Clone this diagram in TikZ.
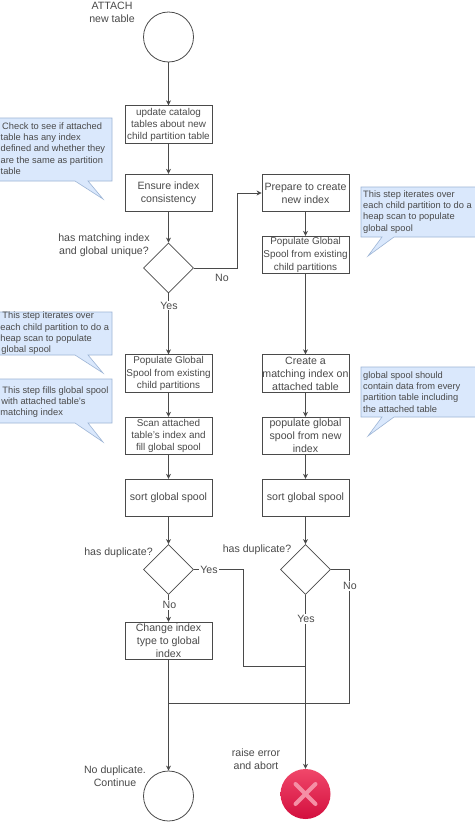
\documentclass[tikz,border=0pt]{standalone}
\usepackage{fontspec}
\setmainfont{Liberation Sans}
\usetikzlibrary{arrows.meta,calc,shapes.geometric}
\definecolor{ink}{HTML}{4A4A4A}
\definecolor{noteblue}{HTML}{DAE8FC}
\definecolor{noteline}{HTML}{9DB5D6}
\definecolor{redtop}{HTML}{F0476A}
\definecolor{redbot}{HTML}{D30F3E}
\definecolor{redx}{HTML}{F58FA5}
\tikzset{
  x=1pt,y=-1pt,
  every node/.style={text=ink,font=\fontsize{10.6}{13}\selectfont},
  box/.style={draw=ink,line width=.8pt,fill=white,minimum width=87pt,minimum height=37.5pt,inner sep=0pt,align=center},
  smalltext/.style={font=\fontsize{9.9}{12}\selectfont},
  looseline/.style={font=\fontsize{9.9}{12.7}\selectfont},
  circ/.style={draw=ink,line width=.8pt,fill=white,circle,minimum size=50pt,inner sep=0pt},
  dia/.style={draw=ink,line width=.8pt,fill=white,diamond,aspect=1,minimum size=50pt,inner sep=0pt},
  lbl/.style={align=center,inner sep=0pt},
  edgelbl/.style={align=center,inner sep=1pt,fill=white},
  conn/.style={draw=ink,line width=.8pt},
  arr/.style={conn,-{Stealth[length=5pt,width=5pt]}},
  notebg/.style={draw=noteline,line width=.6pt,fill=noteblue},
  notetxt/.style={align=left,anchor=north west,inner sep=0pt,font=\fontsize{9.3}{11.2}\selectfont},
}
\begin{document}
\begin{tikzpicture}
\useasboundingbox (0,0) rectangle (474,822);
\fill[white] (0,0) rectangle (474,822);
% callouts
\draw[notebg] (-2,118) -- (112,118) -- (112,181) -- (88,181) -- (103,199) -- (75,181) -- (-2,181) -- cycle;
\node[notetxt] (n1) at (0.5,122.5) {\hspace*{1.5pt}Check to see if attached\\table has any index\\defined and whether they\\are the same as partition\\table};
\draw[notebg] (-2,312) -- (112,312) -- (112,355) -- (88,355) -- (103,373) -- (75,355) -- (-2,355) -- cycle;
\node[notetxt] (n2) at (0.2,312) {\hspace*{2pt}This step iterates over\\each child partition to do a\\heap scan to populate\\\hspace*{1pt}global spool};
\draw[notebg] (-2,379) -- (112,379) -- (112,423) -- (88,423) -- (103,442) -- (75,423) -- (-2,423) -- cycle;
\node[notetxt] (n3) at (0.2,386.5) {\hspace*{2pt}This step fills global spool\\\hspace*{1pt}with attached table's\\matching index};
\draw[notebg] (361,187) -- (476,187) -- (476,237) -- (394,237) -- (368,256) -- (382,237) -- (361,237) -- cycle;
\node[notetxt] (n4) at (363,190.5) {This step iterates over\\each child partition to do a\\heap scan to populate\\global spool};
\draw[notebg] (361,367) -- (476,367) -- (476,417) -- (394,417) -- (368,436) -- (382,417) -- (361,417) -- cycle;
\node[notetxt] (n5) at (363,371.5) {global spool should\\contain data from every\\partition table including\\the attached table};
% left column
\node[circ] (start) at (168.5,37) {};
\node[box,smalltext] (upd) at (168.5,124.5) {update catalog\\tables about new\\child partition table};
\node[box] (ens) at (168.5,193) {Ensure index\\consistency};
\node[dia] (d1) at (168.5,268) {};
\node[box,looseline] (pop1) at (168.5,373.5) {Populate Global\\Spool from existing\\child partitions};
\node[box,smalltext] (scan) at (168.5,436) {Scan attached\\table's index and\\fill global spool};
\node[box] (sort1) at (168.5,498) {sort global spool};
\node[dia] (d2) at (168.5,569.5) {};
\node[box] (chg) at (168.5,641) {Change index\\type to global\\index};
\node[circ] (end) at (168.5,796) {};
% right column
\node[box] (prep) at (305.5,193) {Prepare to create\\new index};
\node[box,looseline] (pop2) at (305.5,255) {Populate Global\\Spool from existing\\child partitions};
\node[box] (crt) at (305.5,373.5) {Create a\\matching index on\\attached table};
\node[box] (pgs) at (305.5,436) {populate global\\spool from new\\index};
\node[box] (sort2) at (305.5,498) {sort global spool};
\node[dia] (d3) at (305.5,569.5) {};
\node[circle,minimum size=50pt,inner sep=0pt,top color=redtop,bottom color=redbot] (abort) at (305.5,794) {};
\draw[line width=4pt,line cap=round,color=redx] ($(abort)+(-10,-10)$) -- ($(abort)+(10,10)$) ($(abort)+(-10,10)$) -- ($(abort)+(10,-10)$);
% connectors
\coordinate (j1) at (243,666);
\coordinate (j2) at (305.5,666);
\coordinate (k1) at (349,703);
\coordinate (k2) at (168.5,703);
\draw[arr] (start) -- (upd);
\draw[arr] (upd) -- (ens);
\draw[arr] (ens) -- (d1);
\draw[arr] (d1.east) -- (237,268) -- (237,193) -- (prep.west);
\draw[arr] (d1) -- (pop1);
\draw[arr] (pop1) -- (scan);
\draw[arr] (scan) -- (sort1);
\draw[arr] (sort1) -- (d2);
\draw[arr] (d2) -- (chg);
\draw[arr] (chg) -- (end);
\draw[arr] (prep) -- (pop2);
\draw[arr] (pop2) -- (crt);
\draw[arr] (crt) -- (pgs);
\draw[arr] (pgs) -- (sort2);
\draw[arr] (sort2) -- (d3);
\draw[arr] (d3) -- (abort);
\draw[conn] (d2.east) -- (j1 |- d2.east) -- (j1) -- (j2);
\draw[conn] (d3.east) -- (k1 |- d3.east) -- (k1) -- (k2);
% labels
\node[lbl] (t1) at (112,12.5) {ATTACH\\new table};
\node[lbl] (t2) at (104,245.5) {has matching index\\and global unique?};
\node[lbl] (t3) at (118.5,553) {has duplicate?};
\node[lbl] (t4) at (257,550) {has duplicate?};
\node[lbl] (t5) at (256,759.5) {raise error\\and abort};
\node[lbl] (t6) at (115,776) {No duplicate.\\Continue};
\node[edgelbl] (e1) at (222,278) {No};
\node[edgelbl] (e2) at (169,305.5) {Yes};
\node[edgelbl] (e3) at (209,570) {Yes};
\node[edgelbl] (e4) at (169.5,605) {No};
\node[edgelbl] (e5) at (350,586) {No};
\node[edgelbl] (e6) at (306,619) {Yes};
\end{tikzpicture}
\end{document}
